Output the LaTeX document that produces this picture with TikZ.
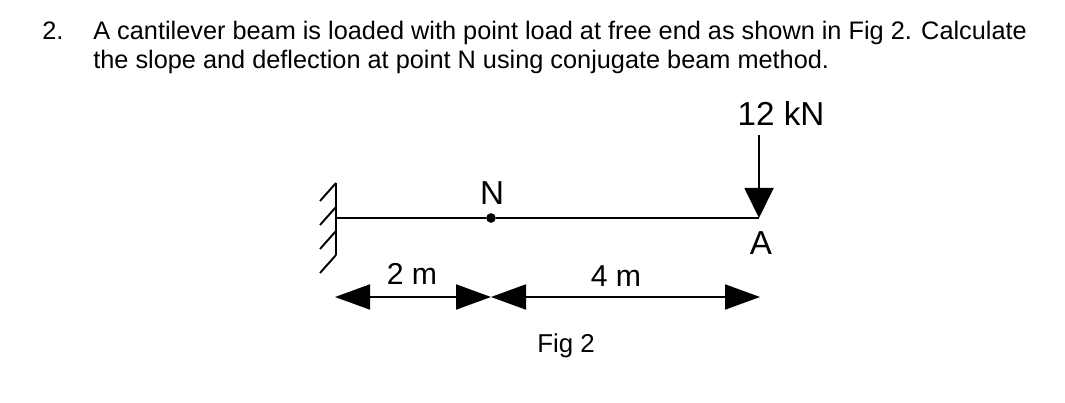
\documentclass[tikz,border=0pt]{standalone}
\usepackage{fontspec}
\setmainfont{Liberation Sans}
\usetikzlibrary{arrows.meta}
\begin{document}
\begin{tikzpicture}
  \useasboundingbox (0,0) rectangle (21.3,8.06);

  \tikzstyle{question}=[anchor=base west,inner sep=0pt,font=\fontsize{14.4pt}{16pt}\selectfont];
  \tikzstyle{label}=[inner sep=0pt,font=\fontsize{18.9pt}{20pt}\selectfont];
  \tikzstyle{dim_label}=[inner sep=0pt,font=\fontsize{17.2pt}{18pt}\selectfont];
  \tikzstyle{caption}=[inner sep=0pt,font=\fontsize{14.7pt}{16pt}\selectfont];
  \tikzstyle{member}=[line width=1.1pt];
  \tikzstyle{dim_line}=[line width=1.1pt,{Triangle[length=0.7cm,width=0.5cm]}-{Triangle[length=0.7cm,width=0.5cm]}];
  \tikzstyle{load}=[line width=1.1pt,-{Triangle[length=0.6cm,width=0.58cm]}];
  \tikzstyle{joint}=[circle,fill=black,minimum size=5.5pt,inner sep=0pt];

  \coordinate (wall_top) at (6.72,4.40);
  \coordinate (wall_bottom) at (6.72,2.96);
  \coordinate (fixed) at (6.72,3.70);
  \coordinate (free) at (15.18,3.70);
  \coordinate (load_top) at (15.18,5.36);
  \coordinate (dim_left) at (6.70,2.12);
  \coordinate (dim_N) at (9.82,2.12);
  \coordinate (dim_right) at (15.20,2.12);

  \node (number) at (0.84,7.26)[question]{2.};
  \node (line_1) at (1.86,7.26)[question]{A cantilever beam is loaded with point load at free end as shown in Fig 2. Calculate};
  \node (line_2) at (1.86,6.68)[question]{the slope and deflection at point N using conjugate beam method.};

  \node (point_N) at (9.82,3.70)[joint]{};
  \node (label_N) at (9.84,4.20)[label]{N};
  \node (label_A) at (15.22,3.20)[label]{A};
  \node (label_load) at (15.62,5.80)[label]{12 kN};
  \node (label_2m) at (8.24,2.58)[dim_label]{2 m};
  \node (label_4m) at (12.32,2.54)[dim_label]{4 m};
  \node (label_fig) at (11.32,1.15)[caption]{Fig 2};

  \draw[member] (wall_top)--(wall_bottom);
  \foreach \y in {4.40,3.92,3.44,2.96}
    \draw[member] (6.72,\y)--++(-0.32,-0.36);

  \draw[member] (fixed)--(point_N)--(free);
  \draw[load] (load_top)--(free);

  \draw[dim_line] (dim_left)--(dim_N);
  \draw[dim_line] (dim_N)--(dim_right);
\end{tikzpicture}
\end{document}
